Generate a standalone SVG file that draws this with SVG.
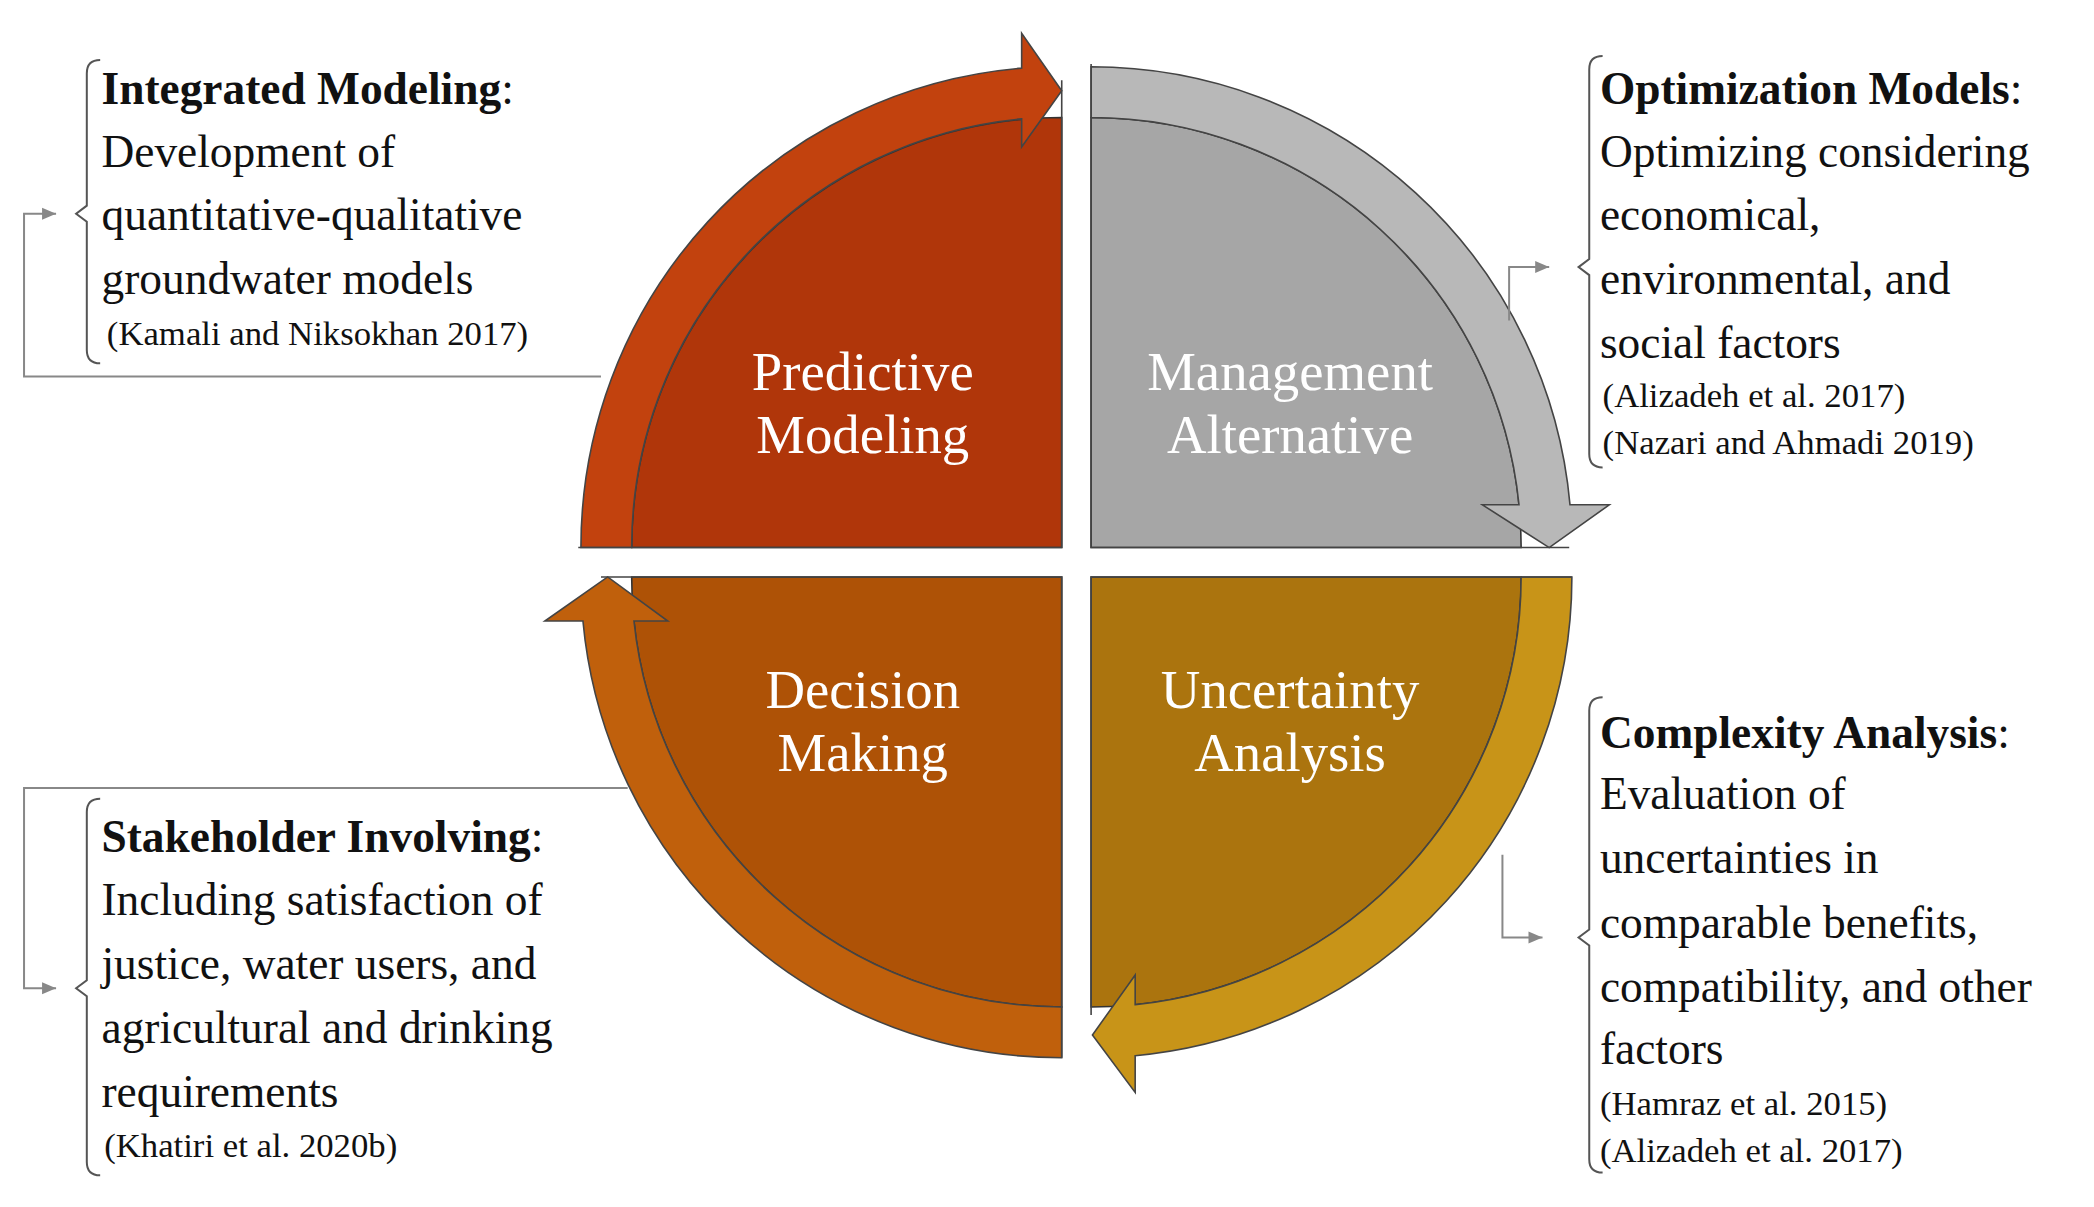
<svg xmlns="http://www.w3.org/2000/svg" width="2094" height="1207" viewBox="0 0 2094 1207">
<style>
.lbl{font-family:"Liberation Serif",serif;font-size:41px;fill:#fff;text-anchor:middle}
.t{font-family:"Liberation Serif",serif;font-size:34px;fill:#111}
.c{font-family:"Liberation Serif",serif;font-size:26px;fill:#111}
.b{font-weight:bold}
.br{fill:none;stroke:#555;stroke-width:1.5}
.cn{fill:none;stroke:#888;stroke-width:1.5}
.band{stroke:#444;stroke-width:1.2}
.pie{stroke:#333;stroke-width:1.2}
</style>
<defs><marker id="ah" markerWidth="8" markerHeight="8" refX="7" refY="4" orient="auto"><path d="M0,1 L7,4 L0,7 Z" fill="#888"/></marker></defs>
<rect width="2094" height="1207" fill="#fff"/>
<g transform="scale(1.3355)">
<g id="predictive">
<path class="pie" d="M795 410 L473 410 A322 322 0 0 1 795 88 Z" fill="#b0360a"/>
<path class="band" d="M435 410 A360 360 0 0 1 765 51 L765 25 L795 68 L765 110 L765 89 A322 322 0 0 0 473 410 Z" fill="#c2420e"/>
<path d="M795 60 L795 410 L433 410" fill="none" stroke="#444" stroke-width="1.2"/>
<text class="lbl" x="646" y="292">Predictive</text><text class="lbl" x="646" y="339">Modeling</text>
</g>
<g id="management">
<path class="pie" d="M817 410 L817 88 A322 322 0 0 1 1139 410 Z" fill="#a6a6a6"/>
<path class="band" d="M817 50 A360 360 0 0 1 1175.6 378 L1205 378 L1160 410 L1110 378 L1137.4 378 A322 322 0 0 0 817 88 Z" fill="#b8b8b8"/>
<path d="M817 48 L817 410 L1175 410" fill="none" stroke="#444" stroke-width="1.2"/>
<text class="lbl" x="966" y="292">Management</text><text class="lbl" x="966" y="339">Alternative</text>
</g>
<g id="decision">
<path class="pie" d="M795 432 L795 754 A322 322 0 0 1 473 432 Z" fill="#ae5206"/>
<path class="band" d="M795 792 A360 360 0 0 1 436.5 465 L408 465 L455 432 L500 465 L474.7 465 A322 322 0 0 0 795 754 Z" fill="#c0600c"/>
<path d="M450 432 L795 432 L795 792" fill="none" stroke="#444" stroke-width="1.2"/>
<text class="lbl" x="646" y="530">Decision</text><text class="lbl" x="646" y="577">Making</text>
</g>
<g id="uncertainty">
<path class="pie" d="M817 432 L1139 432 A322 322 0 0 1 817 754 Z" fill="#ab740e"/>
<path class="band" d="M1177 432 A360 360 0 0 1 850 790.5 L850 818 L818 775 L850 730 L850 752.3 A322 322 0 0 0 1139 432 Z" fill="#c89418"/>
<path d="M817 760 L817 432 L1177 432" fill="none" stroke="#444" stroke-width="1.2"/>
<text class="lbl" x="966" y="530">Uncertainty</text><text class="lbl" x="966" y="577">Analysis</text>
</g>
<g id="connectors">
<path class="cn" d="M450 282 L18 282 L18 160 L42 160" marker-end="url(#ah)"/>
<path class="cn" d="M1130 240 L1130 200 L1160 200" marker-end="url(#ah)"/>
<path class="cn" d="M470 590 L18 590 L18 740 L42 740" marker-end="url(#ah)"/>
<path class="cn" d="M1125 640 L1125 702 L1155 702" marker-end="url(#ah)"/>
</g>
<g id="integrated">
<path class="br" d="M75 45 Q65 45 65 55 L65 154 L57 160 L65 166 L65 262 Q65 272 75 272"/>
<text class="t" x="76" y="78"><tspan class="b">Integrated Modeling</tspan>:</text>
<text class="t" x="76" y="125">Development of</text>
<text class="t" x="76" y="172">quantitative-qualitative</text>
<text class="t" x="76" y="220">groundwater models</text>
<text class="c" x="80" y="258">(Kamali and Niksokhan 2017)</text>
</g>
<g id="optimization">
<path class="br" d="M1200 42 Q1190 42 1190 52 L1190 194 L1182 200 L1190 206 L1190 340 Q1190 350 1200 350"/>
<text class="t" x="1198" y="78"><tspan class="b">Optimization Models</tspan>:</text>
<text class="t" x="1198" y="125">Optimizing considering</text>
<text class="t" x="1198" y="172">economical,</text>
<text class="t" x="1198" y="220">environmental, and</text>
<text class="t" x="1198" y="268">social factors</text>
<text class="c" x="1200" y="305">(Alizadeh et al. 2017)</text>
<text class="c" x="1200" y="340">(Nazari and Ahmadi 2019)</text>
</g>
<g id="stakeholder">
<path class="br" d="M75 598 Q65 598 65 608 L65 734 L57 740 L65 746 L65 870 Q65 880 75 880"/>
<text class="t" x="76" y="638"><tspan class="b">Stakeholder Involving</tspan>:</text>
<text class="t" x="76" y="685">Including satisfaction of</text>
<text class="t" x="76" y="733">justice, water users, and</text>
<text class="t" x="76" y="781">agricultural and drinking</text>
<text class="t" x="76" y="829">requirements</text>
<text class="c" x="78" y="866">(Khatiri et al. 2020b)</text>
</g>
<g id="complexity">
<path class="br" d="M1200 522 Q1190 522 1190 532 L1190 696 L1182 702 L1190 708 L1190 868 Q1190 878 1200 878"/>
<text class="t" x="1198" y="560"><tspan class="b">Complexity Analysis</tspan>:</text>
<text class="t" x="1198" y="606">Evaluation of</text>
<text class="t" x="1198" y="654">uncertainties in</text>
<text class="t" x="1198" y="702">comparable benefits,</text>
<text class="t" x="1198" y="750">compatibility, and other</text>
<text class="t" x="1198" y="797">factors</text>
<text class="c" x="1198" y="835">(Hamraz et al. 2015)</text>
<text class="c" x="1198" y="870">(Alizadeh et al. 2017)</text>
</g>
</g>
</svg>
